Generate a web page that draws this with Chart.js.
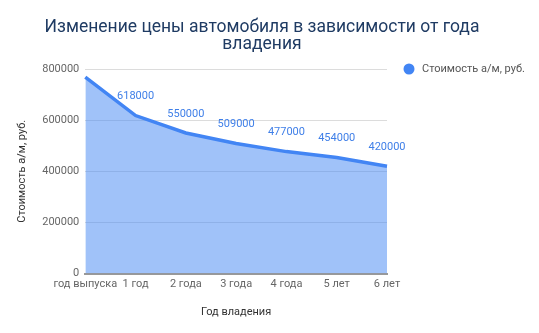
<!DOCTYPE html>
<html>
<head>
<meta charset="utf-8">
<script src="https://cdn.jsdelivr.net/npm/chart.js@4"></script>
<style>
  html, body { margin: 0; padding: 0; background: #fff; }
  #wrap { width: 539px; height: 333px; }
</style>
</head>
<body>
<div id="wrap"><canvas id="chartPrice"></canvas></div>
<script>
const years = ['год выпуска', '1 год', '2 года', '3 года', '4 года', '5 лет', '6 лет']
const prices = [768000, 618000, 550000, 509000, 477000, 454000, 420000]
const shownLabels = [null, '618000', '550000', '509000', '477000', '454000', '420000']
const yTicks = [0, 200000, 400000, 600000, 800000]
const seriesName = 'Стоимость а/м, руб.'
const titleLines = ['Изменение цены автомобиля в зависимости от года', 'владения']

// values above the points, like the original
const pointLabels = {
  id: 'pointLabels',
  afterDatasetsDraw(chart) {
    const ctx = chart.ctx
    const meta = chart.getDatasetMeta(0)
    ctx.save()
    ctx.font = '11px Roboto'
    ctx.fillStyle = '#3f7fe8'
    ctx.textAlign = 'center'
    ctx.textBaseline = 'middle'
    meta.data.forEach((pt, i) => {
      if (shownLabels[i]) ctx.fillText(shownLabels[i], pt.x, pt.y - 19)
    })
    ctx.restore()
  }
}

// title over the whole page, legend to the right of the plot
const sideBits = {
  id: 'sideBits',
  afterDraw(chart) {
    const ctx = chart.ctx
    const area = chart.chartArea
    ctx.save()
    ctx.font = '17.5px Roboto'
    ctx.fillStyle = '#1f3b63'
    ctx.textAlign = 'center'
    ctx.textBaseline = 'alphabetic'
    ctx.fillText(titleLines[0], 262, 32)
    ctx.fillText(titleLines[1], 262, 49)

    const x = area.right + 22
    const y = area.top
    ctx.fillStyle = '#4285f4'
    ctx.beginPath()
    ctx.arc(x, y, 5.5, 0, Math.PI * 2)
    ctx.fill()
    ctx.font = '11px Roboto'
    ctx.fillStyle = '#555'
    ctx.textAlign = 'left'
    ctx.textBaseline = 'middle'
    ctx.fillText(seriesName, x + 13, y)
    ctx.restore()
  }
}

new Chart(document.getElementById('chartPrice'), {
  type: 'line',
  data: {
    labels: years,
    datasets: [{
      label: seriesName,
      data: prices,
      borderColor: '#4285f4',
      backgroundColor: 'rgba(66,133,244,0.5)',
      borderWidth: 3.5,
      fill: 'origin',
      pointRadius: 0,
      pointHoverRadius: 0,
      tension: 0
    }]
  },
  options: {
    responsive: true,
    maintainAspectRatio: false,
    animation: false,
    layout: { padding: { left: 12, right: 152, top: 69, bottom: 10 } },
    plugins: {
      title: { display: false },
      legend: { display: false },
      tooltip: { enabled: false }
    },
    scales: {
      x: {
        offset: false,
        grid: { display: false, drawTicks: false },
        border: { color: '#999', width: 2 },
        ticks: { color: '#666', font: { family: 'Roboto', size: 11 }, maxRotation: 0, autoSkip: false, padding: 4 },
        title: {
          display: true,
          text: 'Год владения',
          color: '#333',
          font: { family: 'Roboto', size: 11 },
          padding: { top: 11 }
        }
      },
      y: {
        min: 0,
        max: 800000,
        afterBuildTicks: axis => { axis.ticks = yTicks.map(v => ({ value: v })) },
        grid: { color: '#dcdcdc', drawTicks: false },
        border: { display: false },
        ticks: { color: '#666', font: { family: 'Roboto', size: 11 }, padding: 6, callback: v => String(v) },
        title: {
          display: true,
          text: seriesName,
          color: '#333',
          font: { family: 'Roboto', size: 11 },
          padding: { bottom: 7 }
        }
      }
    }
  },
  plugins: [pointLabels, sideBits]
});
</script>
</body>
</html>
